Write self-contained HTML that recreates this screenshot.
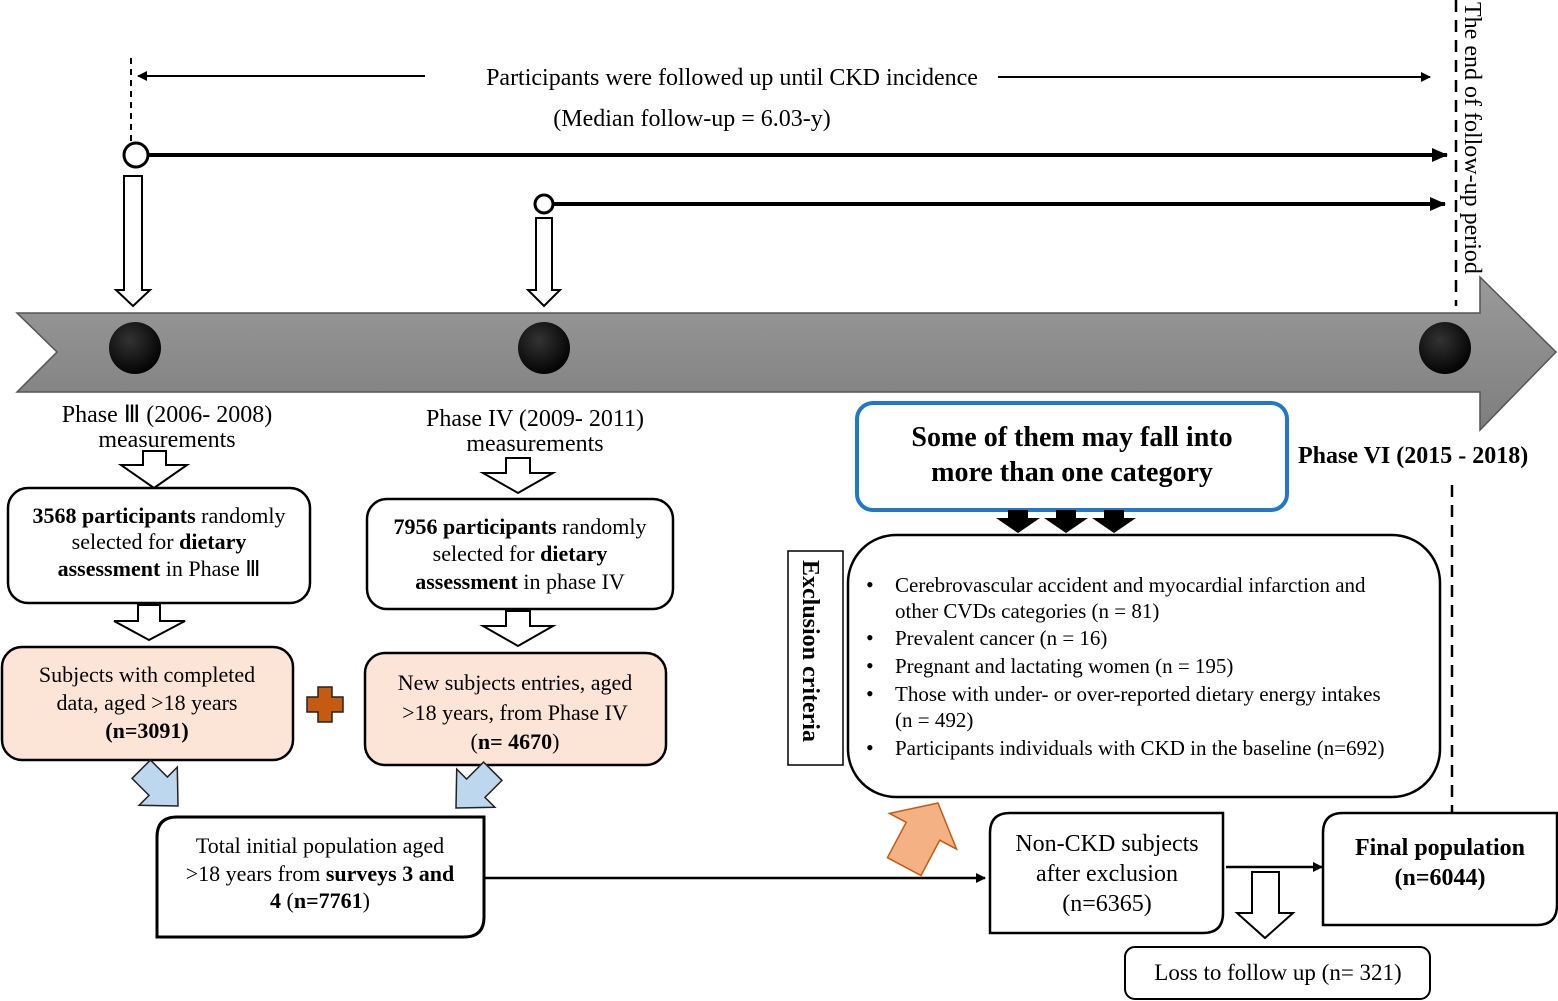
<!DOCTYPE html>
<html><head><meta charset="utf-8"><style>
html,body{margin:0;padding:0;background:#fff}
svg{display:block}
text{font-family:"Liberation Serif",serif;fill:#000}
.t{font-size:22px}
.b{font-weight:bold}
</style></head><body>
<svg width="1558" height="1001" viewBox="0 0 1558 1001" xmlns="http://www.w3.org/2000/svg">
<defs>
<marker id="ah" markerWidth="10" markerHeight="10" refX="9" refY="5" orient="auto" markerUnits="userSpaceOnUse"><path d="M0,0 L14,5 L0,10 z" transform="scale(0.72,1)"/></marker>
<marker id="ah2" markerWidth="16" markerHeight="14" refX="15" refY="7" orient="auto" markerUnits="userSpaceOnUse"><path d="M0,0 L16,7 L0,14 z"/></marker>
<linearGradient id="g" x1="0" y1="0" x2="0" y2="1"><stop offset="0" stop-color="#9a9a9a"/><stop offset="1" stop-color="#7e7e7e"/></linearGradient>
<radialGradient id="ball" cx="0.4" cy="0.35" r="0.7"><stop offset="0" stop-color="#333"/><stop offset="1" stop-color="#000"/></radialGradient>
</defs>

<line x1="131" y1="58" x2="131" y2="142" stroke="#000" stroke-width="2" stroke-dasharray="6,5"/>
<line x1="425" y1="76" x2="138" y2="76" stroke="#000" stroke-width="2" marker-end="url(#ah)"/>
<line x1="998" y1="77" x2="1430" y2="77" stroke="#000" stroke-width="2" marker-end="url(#ah)"/>
<text x="732" y="85" text-anchor="middle" style="font-size:24px">Participants were followed up until CKD incidence</text>
<text x="692" y="126" text-anchor="middle" style="font-size:24px">(Median follow-up = 6.03-y)</text>
<line x1="148" y1="155" x2="1447" y2="155" stroke="#000" stroke-width="4" marker-end="url(#ah2)"/>
<circle cx="136" cy="155" r="12" fill="#fff" stroke="#000" stroke-width="3"/>
<line x1="553" y1="204" x2="1445" y2="204" stroke="#000" stroke-width="4" marker-end="url(#ah2)"/>
<circle cx="544" cy="204" r="9" fill="#fff" stroke="#000" stroke-width="3"/>
<path d="M124,176 H142 V290 H150 L133,306 L116,290 H124 Z" fill="#fff" stroke="#000" stroke-width="2"/>
<path d="M536,218 H552 V290 H560 L544,306 L528,290 H536 Z" fill="#fff" stroke="#000" stroke-width="2"/>
<line x1="1456" y1="0" x2="1456" y2="306" stroke="#000" stroke-width="2.5" stroke-dasharray="12,8"/>
<text transform="translate(1465,2) rotate(90)" style="font-size:24px">The end of follow-up period</text>

<path d="M17,313 H1480 V277 L1556,352 L1480,430 V392 H17 L57,352 Z" fill="url(#g)" stroke="#555" stroke-width="1.5"/>
<ellipse cx="135" cy="348" rx="26" ry="26" fill="url(#ball)"/>
<ellipse cx="544" cy="348" rx="26" ry="26" fill="url(#ball)"/>
<ellipse cx="1445" cy="348" rx="26" ry="26" fill="url(#ball)"/>

<text x="167" y="422" text-anchor="middle" style="font-size:24px">Phase Ⅲ (2006- 2008)</text>
<text x="167" y="447" text-anchor="middle" style="font-size:24px">measurements</text>
<path d="M143,451 H166 V465 H187 L154,488 L121,465 H143 Z" fill="#fff" stroke="#000" stroke-width="2"/>
<rect x="8" y="488" width="302" height="115" rx="20" fill="#fff" stroke="#000" stroke-width="2.5"/>
<text x="159" y="523" class="t" text-anchor="middle"><tspan class="b">3568 participants</tspan> randomly</text>
<text x="159" y="549" class="t" text-anchor="middle">selected for <tspan class="b">dietary</tspan></text>
<text x="159" y="576" class="t" text-anchor="middle"><tspan class="b">assessment</tspan> in Phase Ⅲ</text>
<path d="M138,605 H160 V621 H185 L149,640 L114,621 H138 Z" fill="#fff" stroke="#000" stroke-width="2"/>
<rect x="2" y="647" width="291" height="113" rx="20" fill="#fce4d6" stroke="#000" stroke-width="2.5"/>
<text x="147" y="682" class="t" text-anchor="middle">Subjects with completed</text>
<text x="147" y="710" class="t" text-anchor="middle">data, aged &gt;18 years</text>
<text x="147" y="738" class="t b" text-anchor="middle">(n=3091)</text>
<path d="M318,687 H332 V697 H343 V712 H332 V722 H318 V712 H307 V697 H318 Z" fill="#c55a11" stroke="#222" stroke-width="1.5"/>

<text x="535" y="426" text-anchor="middle" style="font-size:24px">Phase IV (2009- 2011)</text>
<text x="535" y="451" text-anchor="middle" style="font-size:24px">measurements</text>
<path d="M506,458 H530 V473 H553 L518,493 L483,473 H506 Z" fill="#fff" stroke="#000" stroke-width="2"/>
<rect x="367" y="499" width="306" height="110" rx="20" fill="#fff" stroke="#000" stroke-width="2.5"/>
<text x="520" y="534" class="t" text-anchor="middle"><tspan class="b">7956 participants</tspan> randomly</text>
<text x="520" y="561" class="t" text-anchor="middle">selected for <tspan class="b">dietary</tspan></text>
<text x="520" y="589" class="t" text-anchor="middle"><tspan class="b">assessment</tspan> in phase IV</text>
<path d="M506,611 H530 V626 H553 L518,646 L483,626 H506 Z" fill="#fff" stroke="#000" stroke-width="2"/>
<rect x="365" y="653" width="301" height="112" rx="20" fill="#fce4d6" stroke="#000" stroke-width="2.5"/>
<text x="515" y="690" class="t" text-anchor="middle">New subjects entries, aged</text>
<text x="515" y="720" class="t" text-anchor="middle">&gt;18 years, from Phase IV</text>
<text x="515" y="749" class="t" text-anchor="middle">(<tspan class="b">n= 4670</tspan>)</text>

<path d="M0,0 L27,28 L13,28 L13,52 L-13,52 L-13,28 L-27,28 Z" transform="translate(178,806) rotate(135)" fill="#bdd7ee" stroke="#222" stroke-width="1.5"/>
<path d="M0,0 L27,28 L13,28 L13,52 L-13,52 L-13,28 L-27,28 Z" transform="translate(456,808) rotate(225)" fill="#bdd7ee" stroke="#222" stroke-width="1.5"/>

<path d="M157,837 Q157,817 177,817 H484 V917 Q484,937 464,937 H157 Z" fill="#fff" stroke="#000" stroke-width="3"/>
<text x="320" y="853" class="t" text-anchor="middle">Total initial population aged</text>
<text x="320" y="881" class="t" text-anchor="middle">&gt;18 years from <tspan class="b">surveys 3 and</tspan></text>
<text x="320" y="908" class="t" text-anchor="middle"><tspan class="b">4</tspan> (<tspan class="b">n=7761</tspan>)</text>
<line x1="485" y1="878" x2="985" y2="878" stroke="#000" stroke-width="2.5" marker-end="url(#ah)"/>

<rect x="857" y="403" width="430" height="107" rx="16" fill="#fff" stroke="#1f78c8" stroke-width="4"/>
<text x="1072" y="446" text-anchor="middle" class="b" style="font-size:28px">Some of them may fall into</text>
<text x="1072" y="481" text-anchor="middle" class="b" style="font-size:28px">more than one category</text>
<text x="1298" y="463" class="b" style="font-size:24px">Phase VI (2015 - 2018)</text>
<line x1="1452" y1="485" x2="1452" y2="812" stroke="#000" stroke-width="2.5" stroke-dasharray="12,8"/>
<path d="M1008,510 H1028 V518 H1040 L1018,533 L996,518 H1008 Z" fill="#000"/>
<path d="M1056,510 H1076 V518 H1088 L1066,533 L1044,518 H1056 Z" fill="#000"/>
<path d="M1104,510 H1124 V518 H1136 L1114,533 L1092,518 H1104 Z" fill="#000"/>

<rect x="788" y="551" width="55" height="214" fill="#fff" stroke="#000" stroke-width="1.5"/>
<text transform="translate(803,560) rotate(90)" class="b" style="font-size:24px">Exclusion criteria</text>
<rect x="848" y="535" width="592" height="262" rx="48" fill="#fff" stroke="#000" stroke-width="2.5"/>
<g style="font-size:21px">
<text x="866" y="592" style="font-size:22px">•</text>
<text x="895" y="592" style="font-size:21px">Cerebrovascular accident and myocardial infarction and</text>
<text x="895" y="618" style="font-size:21px">other CVDs categories (n = 81)</text>
<text x="866" y="645" style="font-size:22px">•</text>
<text x="895" y="645" style="font-size:21px">Prevalent cancer (n = 16)</text>
<text x="866" y="673" style="font-size:22px">•</text>
<text x="895" y="673" style="font-size:21px">Pregnant and lactating women (n = 195)</text>
<text x="866" y="701" style="font-size:22px">•</text>
<text x="895" y="701" style="font-size:21px">Those with under- or over-reported dietary energy intakes</text>
<text x="895" y="727" style="font-size:21px">(n = 492)</text>
<text x="866" y="755" style="font-size:22px">•</text>
<text x="895" y="755" style="font-size:21px">Participants individuals with CKD in the baseline (n=692)</text>
</g>

<path d="M0,0 L38,32 L19,32 L19,72 L-19,72 L-19,32 L-38,32 Z" transform="translate(938,803) rotate(28)" fill="#f4b183" stroke="#c55a11" stroke-width="1.5"/>

<path d="M990,833 Q990,813 1010,813 H1223 V913 Q1223,933 1203,933 H990 Z" fill="#fff" stroke="#000" stroke-width="2.5"/>
<text x="1107" y="851" text-anchor="middle" style="font-size:24px">Non-CKD subjects</text>
<text x="1107" y="881" text-anchor="middle" style="font-size:24px">after exclusion</text>
<text x="1107" y="911" text-anchor="middle" style="font-size:24px">(n=6365)</text>
<line x1="1226" y1="867" x2="1322" y2="867" stroke="#000" stroke-width="2.5" marker-end="url(#ah)"/>
<path d="M1323,833 Q1323,813 1343,813 H1557 V905 Q1557,925 1537,925 H1323 Z" fill="#fff" stroke="#000" stroke-width="2.5"/>
<text x="1440" y="855" class="b" text-anchor="middle" style="font-size:24px">Final population</text>
<text x="1440" y="885" class="b" text-anchor="middle" style="font-size:24px">(n=6044)</text>
<path d="M1252,872 H1279 V913 H1293 L1265,938 L1237,913 H1252 Z" fill="#fff" stroke="#000" stroke-width="2"/>
<rect x="1125" y="947" width="305" height="52" rx="10" fill="#fff" stroke="#000" stroke-width="2"/>
<text x="1278" y="980" text-anchor="middle" style="font-size:23px">Loss to follow up (n= 321)</text>
</svg>
</body></html>
